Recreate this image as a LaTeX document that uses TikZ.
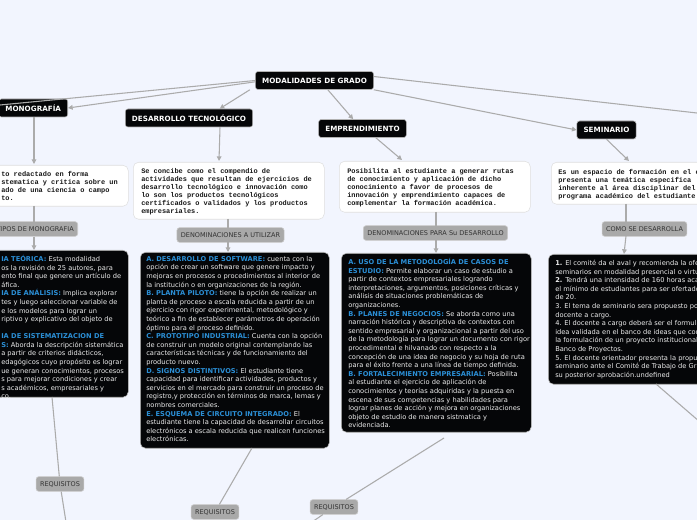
\documentclass[tikz,border=0pt]{standalone}
\usepackage{fontspec}
\setmainfont{DejaVu Sans}
\newfontfamily\monof{Liberation Mono}
\usetikzlibrary{arrows.meta}
\definecolor{bgc}{HTML}{F2F5FE}
\definecolor{edgec}{HTML}{ABABAB}
\definecolor{bluec}{HTML}{2B8FD6}
\definecolor{lblc}{HTML}{A9A9A9}
\definecolor{lbltxt}{HTML}{333333}
\definecolor{darkc}{HTML}{050608}
\definecolor{bodyc}{HTML}{EDEDED}
\newcommand{\bl}[1]{\textcolor{bluec}{\textbf{#1}}}
\tikzset{
  head/.style={fill=darkc, draw=gray!60, rounded corners=2pt, text=white, font=\fontsize{5.4}{6}\selectfont\bfseries, inner xsep=5pt, minimum height=13.5pt},
  desc/.style={fill=white, draw=gray!25, rounded corners=4pt, anchor=north west},
  desctxt/.style={anchor=north west, align=left, font=\monof\bfseries\fontsize{5.2}{6.1}\selectfont, text=black!90, inner sep=0pt},
  lbl/.style={fill=lblc, draw=gray!40, rounded corners=2pt, text=lbltxt, font=\fontsize{4.9}{5}\selectfont, inner xsep=3pt, minimum height=11pt},
  dbox/.style={fill=darkc, draw=gray!50, rounded corners=4pt, anchor=north west},
  dtxt/.style={anchor=north west, align=left, font=\fontsize{5}{6.45}\selectfont, text=bodyc, inner sep=0pt},
  edge/.style={draw=edgec, line width=0.8pt},
  arr/.style={edge, -{Triangle[length=3.5pt,width=3.5pt]}},
}
\begin{document}
\begin{tikzpicture}[x=0.75pt,y=-0.75pt]
\fill[bgc] (0,0) rectangle (697,520);
\useasboundingbox (0,0) rectangle (697,520);
\clip (0,0) rectangle (697,520);

% headers
\node[head] (root) at (314.5,80.5) {MODALIDADES DE GRADO};
\node[head, anchor=east] (mono) at (68,108) {MONOGRAFÍA};
\node[head] (dt) at (189,118) {DESARROLLO TECNOLÓGICO};
\node[head] (emp) at (362.5,128.5) {EMPRENDIMIENTO};
\node[head] (sem) at (606.5,130) {SEMINARIO};
\coordinate (offl) at (0,105);
\coordinate (offr) at (697,113);

\draw[edge] (root.west) -- (offl);
\draw[arr] ([yshift=-1pt]root.west) -- (mono.east);
\draw[arr] ([xshift=-4pt]root.south west) -- ([xshift=23pt]dt.north);
\draw[arr] ([xshift=10pt]root.south) -- ([xshift=-7pt]emp.north);
\draw[arr] (root.south east) -- (sem.west);
\draw[edge] ([yshift=3pt]root.east) -- (offr);

% descriptions
\node[desc, minimum width=200*0.75pt, minimum height=41*0.75pt] (mdesc) at (-72,165) {};
\node[desctxt] (mdt) at (1,171) {to redactado en forma\\stematica y critica sobre un\\ado de una ciencia o campo\\to.};
\node[desc, minimum width=191*0.75pt, minimum height=57*0.75pt] (ddesc) at (133,162) {};
\node[desctxt] (ddt) at (141,168) {Se concibe como el compendio de\\actividades que resultan de ejercicios de\\desarrollo tecnológico e innovación como\\lo son los productos tecnológicos\\certificados o validados y los productos\\empresariales.};
\node[desc, minimum width=191*0.75pt, minimum height=51*0.75pt] (edesc) at (339,161) {};
\node[desctxt] (edt) at (347,168) {Posibilita al estudiante a generar rutas\\de conocimiento y aplicación de dicho\\conocimiento a favor de procesos de\\innovación y emprendimiento capaces de\\complementar la formación académica.};
\node[desc, minimum width=200*0.75pt, minimum height=42*0.75pt] (sdesc) at (551,162) {};
\node[desctxt] (sdt) at (558,169) {Es un espacio de formación en el cual se\\presenta una temática especifica\\inherente al área disciplinar del\\programa académico del estudiante.};

\draw[arr] (mono.south -| 34,0) -- (34,164);
\draw[arr] (dt.south -| 220,0) -- (219,161);
\draw[arr] ([xshift=10pt]emp.south) -- (402,160);
\draw[arr] (sem.south) -- (629,161);

% labels
\node[lbl, anchor=east] (mlbl) at (78,229) {TIPOS DE MONOGRAFIA};
\node[lbl] (dlbl) at (230.5,235) {DENOMINACIONES A UTILIZAR};
\node[lbl] (elbl) at (435.5,233) {DENOMINACIONES PARA Su DESARROLLO};
\node[lbl] (slbl) at (644.5,229) {COMO SE DESARROLLA};

\draw[edge] (34,206) -- (34,222);
\draw[edge] (228,219) -- (228,228);
\draw[edge] (436,212) -- (436,226);
\draw[edge] (626,204) -- (626,222);

% dark boxes
\node[dbox, minimum width=200*0.75pt, minimum height=147*0.75pt] (mbox) at (-72,250) {};
\node[dtxt] (mtxt) at (1,255) {\bl{IA TEÓRICA:} Esta modalidad\\os  la revisión de 25 autores, para\\ento final que genere un artículo de\\áfica.\\\bl{IA DE ANÁLISIS:} Implica explorar\\tes y luego seleccionar variable de\\e los modelos para lograr un\\riptivo y explicativo del objeto de\\[6.4pt]\bl{IA DE SISTEMATIZACION DE}\\\bl{S:} Aborda la descripción sistemática\\a partir de criterios didácticos,\\edagógicos cuyo propósito es lograr\\ue generan conocimientos, procesos\\s para mejorar condiciones y crear\\s académicos, empresariales y\\co.};
\node[dbox, minimum width=189*0.75pt, minimum height=196*0.75pt] (dbx) at (140,252) {};
\node[dtxt] (dtx) at (146,256) {\bl{A. DESARROLLO DE SOFTWARE:} cuenta con la\\opción de crear un software que genere impacto y\\mejoras en procesos o procedimientos al interior de\\la institución o en organizaciones de la región.\\\bl{B. PLANTA PILOTO:} tiene la opción de realizar un\\planta de proceso a escala reducida a partir de un\\ejercicio con rigor experimental, metodológico y\\teórico a fin de establecer parámetros de operación\\óptimo para el proceso definido.\\\bl{C. PROTOTIPO INDUSTRIAL:} Cuenta con la opción\\de construir un modelo original contemplando las\\características técnicas y de funcionamiento del\\producto nuevo.\\\bl{D. SIGNOS DISTINTIVOS:} El estudiante tiene\\capacidad para identificar actividades, productos y\\servicios en el mercado para construir un proceso de\\registro,y protección en términos de marca, lemas y\\nombres comerciales.\\\bl{E. ESQUEMA DE CIRCUITO INTEGRADO:} El\\estudiante tiene la capacidad de desarrollar circuitos\\electrónicos a escala reducida que realicen funciones\\electrónicas.};
\node[dbox, minimum width=190*0.75pt, minimum height=179*0.75pt] (ebx) at (341,253) {};
\node[dtxt] (etx) at (348,258) {\bl{A. USO DE LA METODOLOGÍA DE CASOS DE}\\\bl{ESTUDIO:} Permite elaborar un caso de estudio a\\partir de contextos empresariales logrando\\interpretaciones, argumentos, posiciones críticas y\\análisis de situaciones problemáticas de\\organizaciones.\\\bl{B. PLANES DE NEGOCIOS:} Se aborda como una\\narración histórica y descriptiva de contextos con\\sentido empresarial y organizacional  a partir del uso\\de la metodología para lograr un documento con rigor\\procedimental e hilvanado con respecto a la\\concepción de una idea de negocio y su hoja de ruta\\para el éxito frente a una línea de tiempo definida.\\\bl{B. FORTALECIMIENTO EMPRESARIAL:} Posibilita\\al estudiante el ejercicio de aplicación de\\conocimientos y teorías adquiridas y la puesta en\\escena de sus competencias y habilidades para\\lograr planes de acción y mejora en organizaciones\\objeto de estudio de manera sistmatica y\\evidenciada.};
\node[dbox, minimum width=200*0.75pt, minimum height=130*0.75pt] (sbx) at (548,254) {};
\node[dtxt] (stx) at (555,260) {\textbf{1.} El comité da el aval y recomienda la oferta de\\seminarios en modalidad presencial o virtual.\\\textbf{2.} Tendrá una intensidad de 160 horas académicas y\\el mínimo de estudiantes para ser ofertado será\\de 20.\\3. El tema de seminario sera propuesto por el\\docente a cargo.\\4. El docente a cargo deberá ser el formulador de la\\idea validada en el banco de ideas que conduzca a\\la formulación de un proyecto institucional para el\\Banco de Proyectos.\\5. El docente orientador presenta la propuesta de\\seminario ante el Comité de Trabajo de Grado para\\su posterior aprobación.undefined};

\draw[arr] (mlbl.south -| 34,0) -- (34,250);
\draw[arr] (228,242) -- (228,252);
\draw[arr] (436,240) -- (436,253);
\draw[arr] (626,236) -- (624,254);

% requisitos
\node[lbl] (mreq) at (60,484) {REQUISITOS};
\node[lbl] (dreq) at (215,512) {REQUISITOS};
\node[lbl] (ereq) at (334,507) {REQUISITOS};
\coordinate (mend) at (66,522);
\coordinate (dend) at (210,522);
\coordinate (eend) at (312,522);
\coordinate (eup) at (444,438);
\coordinate (send) at (700,422);
\draw[edge] (52,397) -- (mreq);
\draw[edge] (mreq) -- (mend);
\draw[edge] (252,448) -- (dreq);
\draw[edge] (eup) -- (ereq);
\draw[edge] (ereq) -- (eend);
\draw[edge] (656,384) -- (send);
\end{tikzpicture}
\end{document}
